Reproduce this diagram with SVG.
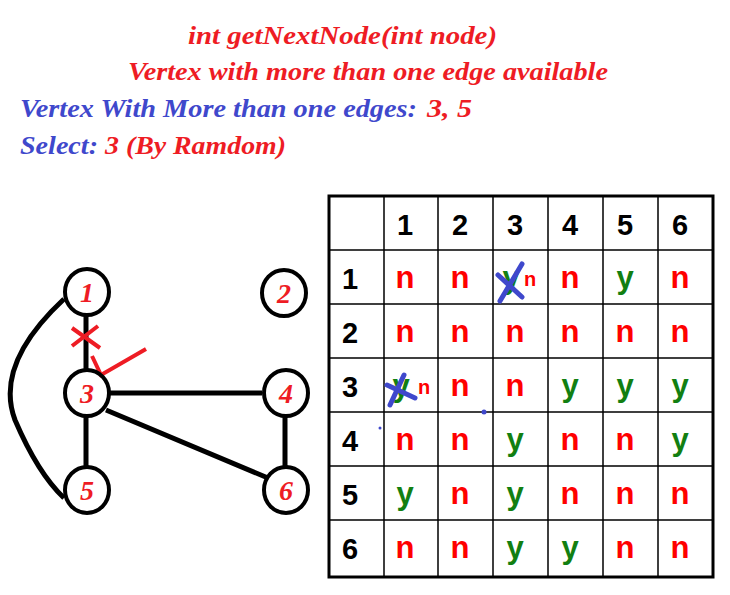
<svg xmlns="http://www.w3.org/2000/svg" width="730" height="595" viewBox="0 0 730 595">
<style>
.t{font-family:"Liberation Serif",serif;font-style:italic;font-weight:bold;font-size:25px}
.r{fill:#ee1c24}.b{fill:#3f48cc}
.nd{fill:none;stroke:#000;stroke-width:4}
.nl{font-family:"Liberation Serif",serif;font-style:italic;font-weight:bold;font-size:28px;fill:#ee1c24;text-anchor:middle}
.e{stroke:#000;stroke-width:5;fill:none}
.g{stroke:#000;stroke-width:1.5}
.h{font-family:"Liberation Sans",sans-serif;font-weight:bold;font-size:29px;text-anchor:middle;fill:#000}
.c{font-family:"Liberation Sans",sans-serif;font-weight:bold;font-size:31px;text-anchor:middle}
.n{fill:#ff0000}.y{fill:#127f12}
.x{stroke:#3f48cc;stroke-width:5;stroke-linecap:round}
</style>
<rect width="730" height="595" fill="#fff"/>
<text class="t r" x="188" y="44" textLength="309" lengthAdjust="spacingAndGlyphs">int getNextNode(int node)</text>
<text class="t r" x="128" y="80" textLength="480" lengthAdjust="spacingAndGlyphs">Vertex with more than one edge available</text>
<text class="t b" x="20" y="117" textLength="397" lengthAdjust="spacingAndGlyphs">Vertex With More than one edges:</text>
<text class="t r" x="427" y="117" textLength="45" lengthAdjust="spacingAndGlyphs">3, 5</text>
<text class="t b" x="20" y="154" textLength="78" lengthAdjust="spacingAndGlyphs">Select:</text>
<text class="t r" x="105" y="154" textLength="181" lengthAdjust="spacingAndGlyphs">3 (By Ramdom)</text>
<g id="connectors">
<path class="e" d="M86,315 V370 M86,416 V467 M109,393 H262 M106,410 L268,478 M285,416 V467"/>
<path class="e" d="M64,299 C20,340 0,380 15,420 C30,455 45,480 64,498"/>
<path d="M72,328 L100,348 M72,346 L98,326" stroke="#ee1c24" stroke-width="4"/>
<path d="M92,356 L101,375 L146,349" stroke="#ee1c24" stroke-width="4" fill="none"/>
</g>
<g id="n1"><ellipse class="nd" cx="87" cy="292" rx="22" ry="23"/><text class="nl" x="87" y="302">1</text></g>
<g id="n2"><ellipse class="nd" cx="284" cy="293" rx="22" ry="23"/><text class="nl" x="284" y="303">2</text></g>
<g id="n3"><ellipse class="nd" cx="87" cy="393" rx="22" ry="23"/><text class="nl" x="87" y="403">3</text></g>
<g id="n4"><ellipse class="nd" cx="286" cy="393" rx="22" ry="23"/><text class="nl" x="286" y="403">4</text></g>
<g id="n5"><ellipse class="nd" cx="87" cy="490" rx="22" ry="23"/><text class="nl" x="87" y="500">5</text></g>
<g id="n6"><ellipse class="nd" cx="286" cy="490" rx="22" ry="23"/><text class="nl" x="286" y="500">6</text></g>
<g id="table">
<rect x="329" y="196" width="384" height="381" fill="none" stroke="#000" stroke-width="3"/>
<path class="g" d="M384,196V577M438,196V577M493,196V577M548,196V577M603,196V577M658,196V577M329,250H713M329,304H713M329,358H713M329,412H713M329,466H713M329,520H713"/>
<g class="h"><text x="405" y="235">1</text><text x="460" y="235">2</text><text x="515" y="235">3</text><text x="570" y="235">4</text><text x="625" y="235">5</text><text x="680" y="235">6</text>
<text x="350" y="289">1</text><text x="350" y="343">2</text><text x="350" y="397">3</text><text x="350" y="451">4</text><text x="350" y="505">5</text><text x="350" y="559">6</text></g>
<g class="c">
<text class="n" x="405" y="288">n</text><text class="n" x="460" y="288">n</text><text class="y" x="511" y="288">y</text><text class="n" x="570" y="288">n</text><text class="y" x="625" y="288">y</text><text class="n" x="680" y="288">n</text>
<text class="n" x="405" y="342">n</text><text class="n" x="460" y="342">n</text><text class="n" x="515" y="342">n</text><text class="n" x="570" y="342">n</text><text class="n" x="625" y="342">n</text><text class="n" x="680" y="342">n</text>
<text class="y" x="401" y="396">y</text><text class="n" x="460" y="396">n</text><text class="n" x="515" y="396">n</text><text class="y" x="570" y="396">y</text><text class="y" x="625" y="396">y</text><text class="y" x="680" y="396">y</text>
<text class="n" x="405" y="450">n</text><text class="n" x="460" y="450">n</text><text class="y" x="515" y="450">y</text><text class="n" x="570" y="450">n</text><text class="n" x="625" y="450">n</text><text class="y" x="680" y="450">y</text>
<text class="y" x="405" y="504">y</text><text class="n" x="460" y="504">n</text><text class="y" x="515" y="504">y</text><text class="n" x="570" y="504">n</text><text class="n" x="625" y="504">n</text><text class="n" x="680" y="504">n</text>
<text class="n" x="405" y="558">n</text><text class="n" x="460" y="558">n</text><text class="y" x="515" y="558">y</text><text class="y" x="570" y="558">y</text><text class="n" x="625" y="558">n</text><text class="n" x="680" y="558">n</text>
</g>
<g font-family="Liberation Sans,sans-serif" font-weight="bold" font-size="20" fill="#ff0000"><text x="524" y="286">n</text><text x="418" y="394">n</text></g>
<path class="x" d="M498,275 L522,297 M522,264 L500,301 M387,385 L415,398 M404,375 L390,405"/>
<circle cx="484" cy="412" r="2.5" fill="#3f48cc"/><circle cx="380" cy="428" r="1.5" fill="#3f48cc"/>
</g>
</svg>
